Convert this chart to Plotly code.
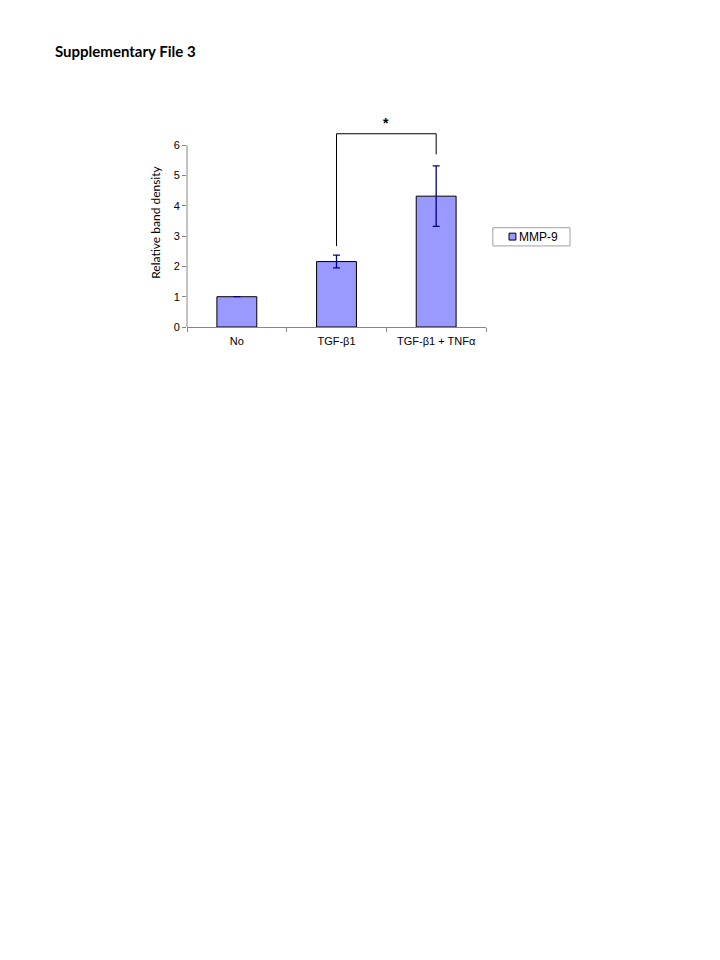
import plotly.graph_objects as go

# data
categories = ["No", "TGF-\u03b21", "TGF-\u03b21 + TNF\u03b1"]
mmp9 = [1.0, 2.16, 4.32]
mmp9_err = [0.0, 0.21, 1.0]
y_ticks = [0, 1, 2, 3, 4, 5, 6]

# significance bracket between TGF-b1 and TGF-b1 + TNFa
sig_left, sig_right = 1, 2
sig_y = 6.38
sig_left_bottom = 2.67
sig_right_bottom = 5.7

BAR_COLOR = "#9999ff"
AXIS_COLOR = "#868686"
ARIAL = "Liberation Sans, Arial"

fig = go.Figure()

fig.add_trace(go.Bar(
    x=categories,
    y=mmp9,
    name="MMP-9",
    showlegend=False,
    marker=dict(color=BAR_COLOR, line=dict(color="black", width=1)),
    error_y=dict(type="data", array=mmp9_err, color="#000080", thickness=1.3, width=3.5),
))

# y axis line only up to 6 (the range is stretched to fit the bracket)
fig.add_shape(type="line", xref="x domain", yref="y", x0=0, x1=0, y0=0, y1=6,
              line=dict(color=AXIS_COLOR, width=1))

# bracket
fig.add_shape(type="line", xref="x", yref="y", x0=sig_left, x1=sig_left,
              y0=sig_left_bottom, y1=sig_y, line=dict(color="black", width=1))
fig.add_shape(type="line", xref="x", yref="y", x0=sig_left, x1=sig_right,
              y0=sig_y, y1=sig_y, line=dict(color="black", width=1))
fig.add_shape(type="line", xref="x", yref="y", x0=sig_right, x1=sig_right,
              y0=sig_right_bottom, y1=sig_y, line=dict(color="black", width=1))
fig.add_annotation(x=(sig_left + sig_right) / 2, y=sig_y, yanchor="bottom", yshift=1,
                   text="<b>*</b>", showarrow=False,
                   font=dict(family=ARIAL, size=14, color="black"))

# small excel-style legend box on the right
fig.add_shape(type="rect", xref="paper", yref="paper", x0=1.023, x1=1.281, y0=0.388, y1=0.475,
              line=dict(color="#a0a0a0", width=1), fillcolor="white")
fig.add_shape(type="rect", xref="paper", yref="paper", x0=1.077, x1=1.100, y0=0.416, y1=0.449,
              line=dict(color="black", width=1), fillcolor=BAR_COLOR)
fig.add_annotation(xref="paper", yref="paper", x=1.104, y=0.433, xanchor="left", yanchor="middle",
                   text="MMP-9", showarrow=False,
                   font=dict(family=ARIAL, size=12, color="black"))

fig.update_layout(
    width=720, height=960,
    paper_bgcolor="white", plot_bgcolor="white",
    margin=dict(l=179, r=242, t=110, b=641),
    bargap=0.6,
    title=dict(text="<b>Supplementary File 3</b>", xref="container", yref="container",
               x=47 / 720, xanchor="left", y=1 - 44 / 960, yanchor="middle",
               font=dict(family="Lato, Open Sans", size=15, color="black")),
    xaxis=dict(showline=True, linecolor=AXIS_COLOR, linewidth=1,
               ticks="outside", tickson="boundaries", ticklen=4, tickcolor=AXIS_COLOR,
               ticklabelstandoff=4,
               tickfont=dict(family=ARIAL, size=11, color="black"),
               showgrid=False, zeroline=False),
    yaxis=dict(range=[0, 6.9], tickvals=y_ticks, showline=False,
               ticks="outside", ticklen=4, tickcolor=AXIS_COLOR,
               tickfont=dict(family=ARIAL, size=11, color="black"),
               showgrid=False, zeroline=False,
               title=dict(text="Relative band density", standoff=10,
                          font=dict(family="Lato, Open Sans", size=12, color="black"))),
)

fig.write_html("out.html")
